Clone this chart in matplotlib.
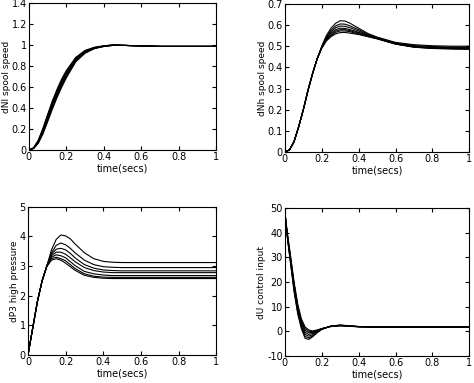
import matplotlib
matplotlib.use("Agg")
import matplotlib.pyplot as plt
from matplotlib.ticker import FuncFormatter

# dNl spool speed
t_nl = [0, .025, .05, .075, .1, .125, .15, .175, .2, .25, .3, .35, .4, .45, .5, .6, .7, .8, .9, 1.0]
nl_runs = [
    [0, .022, .095, .21, .34, .47, .58, .68, .76, .885, .952, .982, .996, 1.005, 1.0, .995, .99, .99, .99, .99],
    [0, .021, .09, .20, .33, .455, .565, .665, .75, .878, .947, .979, .994, 1.004, 1.0, .995, .99, .99, .99, .99],
    [0, .02, .085, .19, .32, .445, .555, .655, .74, .872, .943, .977, .993, 1.003, 1.0, .995, .99, .99, .99, .99],
    [0, .019, .08, .18, .305, .43, .54, .64, .728, .865, .938, .975, .992, 1.002, 1.0, .995, .99, .99, .99, .99],
    [0, .018, .075, .17, .295, .415, .525, .625, .715, .857, .934, .973, .991, 1.001, 1.0, .995, .99, .99, .99, .99],
    [0, .017, .07, .162, .283, .403, .512, .612, .703, .85, .93, .971, .99, 1.0, 1.0, .995, .99, .99, .99, .99],
    [0, .015, .065, .155, .27, .39, .50, .60, .69, .842, .925, .969, .989, 1.0, 1.0, .995, .99, .99, .99, .99],
]

# dNh spool speed
t_nh = [0, .025, .05, .075, .1, .125, .15, .175, .2, .225, .25, .275, .3, .325, .35, .4, .45, .5, .6, .7, .8, .9, 1.0]
nh_runs = [
    [0, .01, .05, .12, .2, .29, .37, .44, .50, .55, .585, .608, .62, .619, .61, .585, .56, .543, .518, .507, .502, .50, .50],
    [0, .01, .05, .12, .2, .29, .37, .44, .497, .543, .575, .596, .605, .604, .597, .578, .556, .54, .515, .503, .498, .496, .495],
    [0, .01, .05, .12, .2, .29, .37, .44, .495, .538, .568, .587, .595, .594, .588, .572, .553, .538, .513, .5, .495, .493, .493],
    [0, .01, .05, .12, .2, .29, .37, .44, .494, .534, .561, .578, .585, .584, .579, .566, .55, .537, .512, .498, .493, .491, .49],
    [0, .01, .05, .12, .2, .29, .37, .44, .493, .53, .555, .571, .578, .578, .574, .562, .548, .536, .511, .497, .491, .489, .488],
    [0, .01, .05, .12, .2, .29, .37, .44, .492, .527, .55, .565, .572, .572, .569, .558, .546, .535, .51, .496, .49, .488, .487],
    [0, .01, .05, .12, .2, .29, .37, .44, .49, .525, .545, .558, .564, .565, .562, .555, .545, .535, .51, .495, .489, .487, .485],
]

# dP3 high pressure
t_p3 = [0, .025, .05, .075, .1, .125, .15, .175, .2, .225, .25, .3, .35, .4, .45, .5, .6, .8, 1.0]
p3_runs = [
    [0, .9, 1.8, 2.5, 3.0, 3.55, 3.9, 4.05, 4.02, 3.92, 3.75, 3.45, 3.25, 3.16, 3.13, 3.12, 3.12, 3.12, 3.12],
    [0, .9, 1.8, 2.5, 3.0, 3.45, 3.7, 3.78, 3.72, 3.6, 3.45, 3.2, 3.05, 2.98, 2.96, 2.95, 2.95, 2.95, 2.95],
    [0, .9, 1.8, 2.5, 3.0, 3.4, 3.57, 3.6, 3.55, 3.43, 3.28, 3.05, 2.93, 2.87, 2.85, 2.84, 2.84, 2.84, 2.84],
    [0, .9, 1.8, 2.5, 3.0, 3.35, 3.47, 3.47, 3.4, 3.28, 3.15, 2.95, 2.85, 2.8, 2.78, 2.78, 2.78, 2.78, 2.78],
    [0, .9, 1.8, 2.5, 3.0, 3.3, 3.38, 3.35, 3.28, 3.15, 3.02, 2.82, 2.74, 2.7, 2.68, 2.68, 2.68, 2.68, 2.68],
    [0, .9, 1.8, 2.5, 3.0, 3.25, 3.3, 3.25, 3.18, 3.05, 2.92, 2.74, 2.66, 2.63, 2.62, 2.62, 2.62, 2.62, 2.62],
    [0, .9, 1.8, 2.5, 2.98, 3.2, 3.25, 3.2, 3.1, 2.98, 2.86, 2.69, 2.62, 2.59, 2.58, 2.58, 2.58, 2.58, 2.58],
]

# dU control input
t_u = [0, .005, .015, .03, .05, .07, .09, .11, .13, .15, .175, .2, .25, .3, .35, .4, .5, .7, 1.0]
u_runs = [
    [49, 44, 37, 28, 16, 7, 1, -2.8, -3.2, -2.2, -0.5, 0.8, 2.2, 2.6, 2.3, 2.0, 1.8, 1.8, 1.8],
    [49, 44.2, 37.3, 28.5, 16.7, 7.7, 1.7, -2.0, -2.6, -1.8, -0.3, 0.9, 2.2, 2.55, 2.28, 2.0, 1.8, 1.8, 1.8],
    [49, 44.4, 37.7, 29, 17.3, 8.3, 2.3, -1.2, -1.9, -1.3, 0, 1.0, 2.15, 2.5, 2.25, 1.98, 1.8, 1.8, 1.8],
    [49, 44.5, 38, 29.5, 18, 9, 3, -0.4, -1.2, -0.8, 0.2, 1.05, 2.1, 2.45, 2.2, 1.96, 1.8, 1.8, 1.8],
    [49, 44.7, 38.3, 30, 18.7, 9.7, 3.7, 0.4, -0.5, -0.4, 0.35, 1.1, 2.1, 2.4, 2.18, 1.94, 1.8, 1.8, 1.8],
    [49, 44.8, 38.6, 30.5, 19.3, 10.3, 4.3, 1.1, 0.1, -0.1, 0.5, 1.15, 2.05, 2.35, 2.15, 1.92, 1.8, 1.8, 1.8],
    [49, 45, 39, 31, 20, 11, 5, 1.8, 0.6, 0.2, 0.6, 1.2, 2.0, 2.3, 2.1, 1.9, 1.8, 1.8, 1.8],
]

x_ticks = [0, 0.2, 0.4, 0.6, 0.8, 1]

panels = [
    # (position, t, runs, ylim, yticks, ylabel)
    ([0.061, 0.608, 0.395, 0.383], t_nl, nl_runs, (0, 1.4), [0, .2, .4, .6, .8, 1, 1.2, 1.4], 'dNl spool speed'),
    ([0.601, 0.603, 0.389, 0.387], t_nh, nh_runs, (0, 0.7), [0, .1, .2, .3, .4, .5, .6, .7], 'dNh spool speed'),
    ([0.059, 0.073, 0.397, 0.387], t_p3, p3_runs, (0, 5), [0, 1, 2, 3, 4, 5], 'dP3 high pressure'),
    ([0.601, 0.070, 0.389, 0.387], t_u, u_runs, (-10, 50), [-10, 0, 10, 20, 30, 40, 50], 'dU control input'),
]

fig = plt.figure(figsize=(4.74, 3.83), dpi=100)
fmt = FuncFormatter(lambda v, pos: '%g' % v)

for pos, t, runs, ylim, yticks, ylabel in panels:
    ax = fig.add_axes(pos)
    for run in runs:
        ax.plot(t, run, color='black', linewidth=0.8)
    ax.set_xlim(0, 1)
    ax.set_ylim(*ylim)
    ax.set_xticks(x_ticks)
    ax.set_yticks(yticks)
    ax.xaxis.set_major_formatter(fmt)
    ax.yaxis.set_major_formatter(fmt)
    ax.tick_params(direction='in', top=True, right=True, length=3, labelsize=7, pad=1.5)
    ax.set_xlabel('time(secs)', fontsize=7, labelpad=1)
    ax.set_ylabel(ylabel, fontsize=6.5, labelpad=0.5)
    for s in ax.spines.values():
        s.set_linewidth(0.8)

fig.savefig('out.png', dpi=100)
